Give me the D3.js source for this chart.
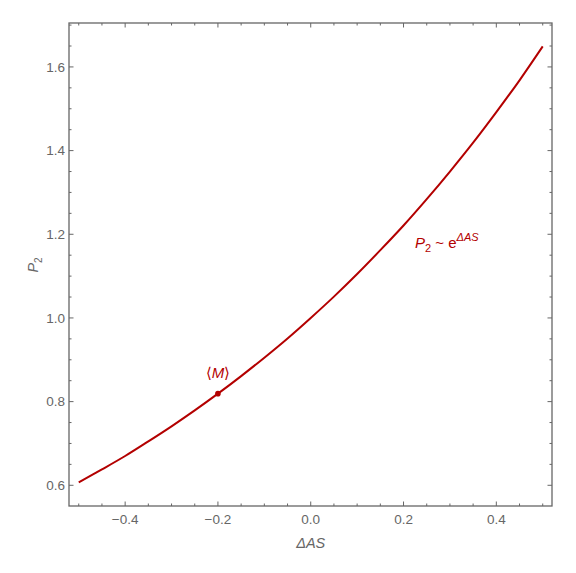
<!DOCTYPE html>
<html lang="en">
<head>
  <meta charset="UTF-8">
  <title>P2 vs Delta AS</title>
  <script src="https://cdnjs.cloudflare.com/ajax/libs/d3/7.6.1/d3.min.js"></script>
  <style>
    body { margin: 0; background: #fff; }
    text { font-family: "Liberation Sans", Arial, sans-serif; }
    .tick-label { fill: #666; font-size: 13.5px; }
    .axis-label { fill: #666; font-size: 14.5px; font-style: italic; }
    .note { fill: #b30000; font-size: 15px; font-style: italic; }
  </style>
</head>
<body>
<div id="wrapper"></div>
<script>
const dAS = [-0.5, -0.45, -0.4, -0.35, -0.3, -0.25, -0.2, -0.15, -0.1, -0.05, 0,
             0.05, 0.1, 0.15, 0.2, 0.25, 0.3, 0.35, 0.4, 0.45, 0.5];
const p2 = [0.607, 0.638, 0.670, 0.705, 0.741, 0.779, 0.819, 0.861, 0.905, 0.951, 1.0,
            1.051, 1.105, 1.162, 1.221, 1.284, 1.350, 1.419, 1.492, 1.568, 1.649];
const meanPoint = [-0.2, 0.819];
const xMajor = [-0.4, -0.2, 0.0, 0.2, 0.4];
const yMajor = [0.6, 0.8, 1.0, 1.2, 1.4, 1.6];
const xMinor = [-0.5, -0.45, -0.35, -0.3, -0.25, -0.15, -0.1, -0.05, 0.05, 0.1, 0.15, 0.25, 0.3, 0.35, 0.45, 0.5];
const yMinor = [0.55, 0.65, 0.7, 0.75, 0.85, 0.9, 0.95, 1.05, 1.1, 1.15, 1.25, 1.3, 1.35, 1.45, 1.5, 1.55, 1.65, 1.7];

const width = 576, height = 573;
const frame = { left: 69, right: 552, top: 23, bottom: 506 };

const svg = d3.select("#wrapper").append("svg")
    .attr("width", width)
    .attr("height", height);

const x = d3.scaleLinear().domain([-0.521, 0.52]).range([frame.left, frame.right]);
const y = d3.scaleLinear().domain([0.5505, 1.705]).range([frame.bottom, frame.top]);

const tickColor = "#666";

// frame
svg.append("rect")
    .attr("x", frame.left).attr("y", frame.top)
    .attr("width", frame.right - frame.left)
    .attr("height", frame.bottom - frame.top)
    .attr("fill", "none")
    .attr("stroke", tickColor)
    .attr("stroke-width", 1.3);

// inward ticks on all four sides
const ticks = svg.append("g").attr("stroke", tickColor).attr("stroke-width", 1);
function xTicks(vals, len) {
    vals.forEach(v => {
        ticks.append("line").attr("x1", x(v)).attr("x2", x(v))
            .attr("y1", frame.bottom).attr("y2", frame.bottom - len);
        ticks.append("line").attr("x1", x(v)).attr("x2", x(v))
            .attr("y1", frame.top).attr("y2", frame.top + len);
    });
}
function yTicks(vals, len) {
    vals.forEach(v => {
        ticks.append("line").attr("y1", y(v)).attr("y2", y(v))
            .attr("x1", frame.left).attr("x2", frame.left + len);
        ticks.append("line").attr("y1", y(v)).attr("y2", y(v))
            .attr("x1", frame.right).attr("x2", frame.right - len);
    });
}
xTicks(xMajor, 4.5);
xTicks(xMinor, 2.5);
yTicks(yMajor, 4.5);
yTicks(yMinor.filter(v => y(v) >= frame.top && y(v) <= frame.bottom), 2.5);

// tick labels
svg.append("g").selectAll("text").data(xMajor).enter().append("text")
    .attr("class", "tick-label")
    .attr("x", d => x(d))
    .attr("y", frame.bottom + 17.5)
    .attr("text-anchor", "middle")
    .text(d => d3.format(".1f")(d).replace("-", "\u2212"));

svg.append("g").selectAll("text").data(yMajor).enter().append("text")
    .attr("class", "tick-label")
    .attr("x", frame.left - 4)
    .attr("y", d => y(d) + 4.8)
    .attr("text-anchor", "end")
    .text(d => d3.format(".1f")(d));

// axis labels
svg.append("text")
    .attr("class", "axis-label")
    .attr("x", 310.7).attr("y", 548)
    .attr("text-anchor", "middle")
    .text("\u0394AS");

const yl = svg.append("text")
    .attr("class", "axis-label")
    .attr("transform", "translate(38,265) rotate(-90)")
    .attr("text-anchor", "middle");
yl.append("tspan").text("P");
yl.append("tspan").attr("font-size", 10).attr("dy", 4).attr("font-style", "normal").text("2");

// curve
const line = d3.line()
    .x((d, i) => x(dAS[i]))
    .y(d => y(d))
    .curve(d3.curveCatmullRom);

svg.append("path")
    .datum(p2)
    .attr("d", line)
    .attr("fill", "none")
    .attr("stroke", "#b30000")
    .attr("stroke-width", 2);

// mean point
svg.append("circle")
    .attr("cx", x(meanPoint[0]))
    .attr("cy", y(meanPoint[1]))
    .attr("r", 2.8)
    .attr("fill", "#b30000");

const ml = svg.append("text")
    .attr("class", "note")
    .attr("x", x(meanPoint[0]))
    .attr("y", y(meanPoint[1]) - 16)
    .attr("text-anchor", "middle");
ml.append("tspan").attr("font-style", "normal").text("\u27E8");
ml.append("tspan").text("M");
ml.append("tspan").attr("font-style", "normal").text("\u27E9");

// annotation
const ann = svg.append("text")
    .attr("class", "note")
    .attr("x", 415)
    .attr("y", 248);
ann.append("tspan").text("P");
ann.append("tspan").attr("font-size", 11).attr("dy", 4).attr("font-style", "normal").text("2");
ann.append("tspan").attr("dy", -4).attr("font-style", "normal").text(" ~ e");
ann.append("tspan").attr("font-size", 11).attr("dy", -7).text("\u0394AS");
</script>
</body>
</html>
